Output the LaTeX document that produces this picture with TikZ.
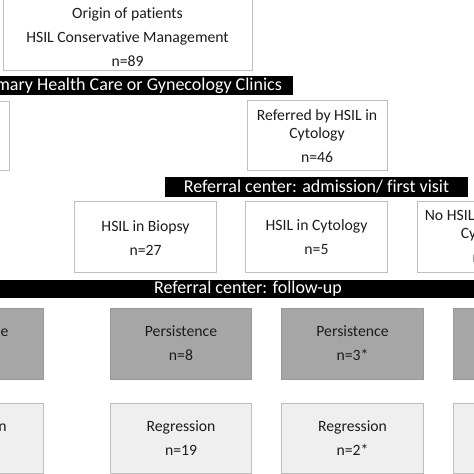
\documentclass[tikz,border=0pt]{standalone}
\usepackage{fontspec}
\setmainfont{Carlito}[Ligatures=NoCommon]
\usetikzlibrary{backgrounds,calc}
\definecolor{boxgray}{HTML}{BFBFBF}
\definecolor{persfill}{HTML}{A6A6A6}
\definecolor{persdraw}{HTML}{999999}
\definecolor{regfill}{HTML}{EFEFEF}
\definecolor{regdraw}{HTML}{BDBDBD}
\definecolor{linegray}{HTML}{ADADAD}
\definecolor{txt}{HTML}{1C1C1C}
\begin{document}
\begin{tikzpicture}[x=1pt,y=-1pt,
  box/.style={draw=boxgray, line width=1pt, fill=white, minimum width=141.5pt, minimum height=71pt,
    align=center, text=txt, font=\fontsize{15.7}{24}\selectfont, inner sep=0pt},
  pers/.style={box, fill=persfill, draw=persdraw},
  regr/.style={box, fill=regfill, draw=regdraw, minimum height=70pt},
  bar/.style={fill=black, text=white, font=\fontsize{18}{20}\selectfont, inner sep=0pt},
  conn/.style={draw=linegray, line width=1.3pt}]
\useasboundingbox (0,0) rectangle (474,474);
\clip (0,0) rectangle (474,474);
\fill[white] (0,0) rectangle (474,474);

\node[box, minimum width=249pt, minimum height=73pt] (origin) at (127.5,33.5)
  {\rule{0pt}{18.5pt}Origin of patients\\HSIL Conservative Management\\n=89};
\node[bar, anchor=east, inner xsep=11pt, minimum height=19pt] (bar1) at (293,85.5)
  {Primary Health Care or Gynecology Clinics};
\node[box, minimum width=140pt, minimum height=69pt] (leftref) at (-61,135.5) {};
\node[box, minimum width=140pt, minimum height=70pt] (ref) at (317,135)
  {\rule{0pt}{13pt}Referred by HSIL in\\[-6pt]Cytology\\n=46};
\node[bar, minimum width=303pt, minimum height=20pt] (bar2) at (316.5,187)
  {Referral center: admission/ first visit};
\node[box] (biopsy) at (145.5,236.5) {\rule{0pt}{13pt}HSIL in Biopsy\\n=27};
\node[box] (cyto) at (316.5,236.5) {\rule{0pt}{13pt}HSIL in Cytology\\n=5};
\node[box] (nohsil) at (488.5,236.5) {No HSIL in Biopsy or\\[-6pt]Cytology\\n=14};
\node[bar, minimum width=700pt, minimum height=18pt] (bar3) at (248,289)
  {Referral center: follow-up};

\node[pers] (p1) at (-27.75,343.5) {Persistence\\\phantom{n=0}};
\node[pers] (p2) at (181,343.5) {Persistence\\n=8};
\node[pers] (p3) at (352.5,343.5) {Persistence\\n=3*};
\node[pers] (p4) at (523.75,343.5) {};
\node[regr] (r1) at (-27.75,438) {Regression\\\phantom{n=0}};
\node[regr] (r2) at (181,438) {Regression\\n=19};
\node[regr] (r3) at (352.5,438) {Regression\\n=2*};
\node[regr] (r4) at (523.75,438) {};

\coordinate (cb) at ($(biopsy.south west)+(14,0)$);
\coordinate (cc) at ($(cyto.south west)+(15,0)$);
\coordinate (cn) at ($(nohsil.south west)+(14,0)$);

\begin{scope}[on background layer]
\draw[conn] (origin.south) -- (origin.south |- bar1.north);
\draw[conn] (bar1.east) -| (ref.north);
\draw[conn] (ref.south) -- (ref.south |- bar2.north);
\draw[conn] (bar2.west) -| (biopsy.north);
\draw[conn] (bar2.east) -| (nohsil.north);
\draw[conn] (cyto.north |- bar2.south) -- (cyto.north);
\draw[conn] (cb) |- (r2.west);
\draw[conn] (cb |- p2.west) -- (p2.west);
\draw[conn] (cc) |- (r3.west);
\draw[conn] (cc |- p3.west) -- (p3.west);
\draw[conn] (cn) |- (r4.west);
\draw[conn] (cn |- p4.west) -- (p4.west);
\end{scope}
\end{tikzpicture}
\end{document}
